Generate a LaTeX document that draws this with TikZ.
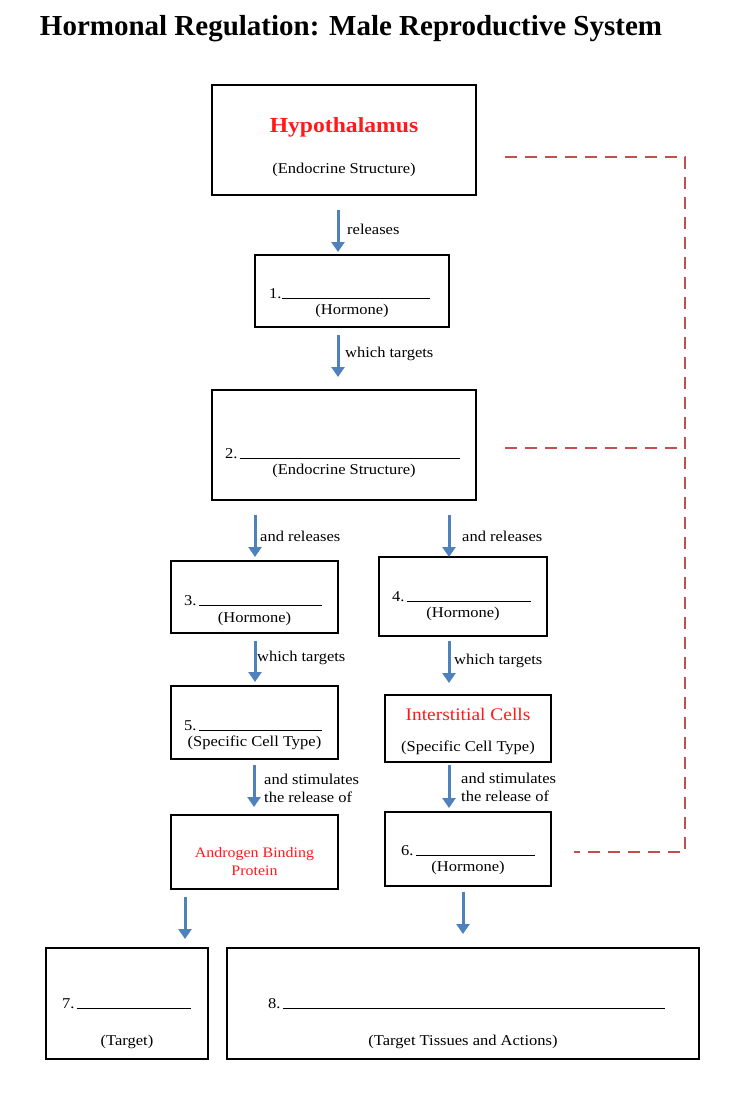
\documentclass[tikz,border=0pt]{standalone}
\usepackage{fontspec}
\setmainfont[FakeStretch=1.1]{Liberation Serif}
\newfontfamily\titlefont{Liberation Serif}
\usetikzlibrary{arrows.meta}
\definecolor{arrblue}{HTML}{4F81BD}
\definecolor{dashred}{HTML}{C0504D}
\definecolor{txtred}{HTML}{FF1A1A}
\newcommand{\blankline}[1]{\rule[-1pt]{#1}{0.6pt}}
\begin{document}
\begin{tikzpicture}[x={(1pt,0)},y={(0,-1pt)},
  box/.style={draw, line width=1.3pt, inner sep=0pt},
  flow/.style={arrblue, line width=3pt, -{Triangle[length=10pt,width=13pt]}},
  lbl/.style={anchor=west, font=\fontsize{15}{18}\selectfont, inner sep=0pt},
  body/.style={font=\fontsize{15}{17}\selectfont, inner sep=0pt},
  num/.style={anchor=base west, font=\fontsize{15}{17}\selectfont, inner sep=0pt},
  fb/.style={dashred, line width=2.8pt, dash pattern=on 12pt off 8pt}]
\useasboundingbox (0,0) rectangle (736,1094);
\node[font=\titlefont\bfseries\fontsize{29}{33}\selectfont, inner sep=0pt] (title) at (351,29) {Hormonal Regulation: Male Reproductive System};
% boxes
\node[box, minimum width=264pt, minimum height=110pt] (hyp) at (344,140) {};
\node[box, minimum width=194pt, minimum height=72pt] (b1) at (352,291) {};
\node[box, minimum width=264pt, minimum height=110pt] (b2) at (344,445) {};
\node[box, minimum width=167pt, minimum height=72pt] (b3) at (254.5,597) {};
\node[box, minimum width=168pt, minimum height=79pt] (b4) at (463,596.5) {};
\node[box, minimum width=167pt, minimum height=73pt] (b5) at (254.5,722.5) {};
\node[box, minimum width=166pt, minimum height=67pt] (ic) at (468,728.5) {};
\node[box, minimum width=167pt, minimum height=74pt] (abp) at (254.5,852) {};
\node[box, minimum width=166pt, minimum height=74pt] (b6) at (468,849) {};
\node[box, minimum width=162pt, minimum height=111pt] (b7) at (127,1003.5) {};
\node[box, minimum width=472pt, minimum height=111pt] (b8) at (463,1003.5) {};
% box texts
\node[inner sep=0pt, text=txtred, font=\bfseries\fontsize{21.5}{24}\selectfont] (t0a) at (344,127) {Hypothalamus};
\node[body] (t0b) at (344,170) {(Endocrine Structure)};
\node[num] (t1a) at (269,298) {1.\blankline{148pt}};
\node[body] (t1b) at (352,311) {(Hormone)};
\node[num] (t2a) at (225,458) {2.\,\blankline{220pt}};
\node[body] (t2b) at (344,471) {(Endocrine Structure)};
\node[num] (t3a) at (184,605) {3.\,\blankline{123pt}};
\node[body] (t3b) at (254.5,619) {(Hormone)};
\node[num] (t4a) at (392,601) {4.\,\blankline{124pt}};
\node[body] (t4b) at (463,614) {(Hormone)};
\node[num] (t5a) at (184,730) {5.\,\blankline{123pt}};
\node[body] (t5b) at (254.5,743) {(Specific Cell Type)};
\node[inner sep=0pt, text=txtred, font=\fontsize{17.7}{20}\selectfont] (tica) at (468,714) {Interstitial Cells};
\node[inner sep=0pt, font=\fontsize{15}{17}\selectfont] (ticb) at (468,748) {(Specific Cell Type)};
\node[inner sep=0pt, text=txtred, font=\fontsize{14.5}{18}\selectfont, align=center] (tabp) at (254.5,862) {Androgen Binding\\Protein};
\node[num] (t6a) at (401,855) {6.\,\blankline{119pt}};
\node[body] (t6b) at (468,868) {(Hormone)};
\node[num] (t7a) at (62,1008) {7.\,\blankline{114pt}};
\node[body] (t7b) at (127,1042) {(Target)};
\node[num] (t8a) at (268,1008) {8.\,\blankline{382pt}};
\node[body] (t8b) at (463,1042) {(Target Tissues and Actions)};
% arrow coordinates
\coordinate (a1s) at (338,210); \coordinate (a1e) at (338,252);
\coordinate (a2s) at (338,335); \coordinate (a2e) at (338,377);
\coordinate (a3s) at (255,515); \coordinate (a3e) at (255,557);
\coordinate (a4s) at (449,515); \coordinate (a4e) at (449,557);
\coordinate (a5s) at (255,641); \coordinate (a5e) at (255,682);
\coordinate (a6s) at (449,641); \coordinate (a6e) at (449,683);
\coordinate (a7s) at (254,765); \coordinate (a7e) at (254,807);
\coordinate (a8s) at (449,765); \coordinate (a8e) at (449,808);
\coordinate (a9s) at (185,897); \coordinate (a9e) at (185,939);
\coordinate (a10s) at (463,892); \coordinate (a10e) at (463,934);
\draw[flow] (a1s) -- (a1e);
\draw[flow] (a2s) -- (a2e);
\draw[flow] (a3s) -- (a3e);
\draw[flow] (a4s) -- (a4e);
\draw[flow] (a5s) -- (a5e);
\draw[flow] (a6s) -- (a6e);
\draw[flow] (a7s) -- (a7e);
\draw[flow] (a8s) -- (a8e);
\draw[flow] (a9s) -- (a9e);
\draw[flow] (a10s) -- (a10e);
% arrow labels
\node[lbl] (l1) at (347,229) {releases};
\node[lbl] (l2) at (345,354) {which targets};
\node[lbl] (l3) at (260,536) {and releases};
\node[lbl] (l4) at (462,536) {and releases};
\node[lbl] (l5) at (257,658) {which targets};
\node[lbl] (l6) at (454,661) {which targets};
\node[lbl, align=left] (l7) at (264,788) {and stimulates\\the release of};
\node[lbl, align=left] (l8) at (461,787) {and stimulates\\the release of};
% feedback dashed lines
\coordinate (fb1) at (505,157);
\coordinate (fbc1) at (685,157);
\coordinate (fb2) at (505,448);
\coordinate (fbc2) at (685,448);
\coordinate (fb3) at (574,852);
\coordinate (fbc3) at (685,852);
\draw[fb] (fb1) -- (fbc1) -- (fbc3) -- (fb3);
\draw[fb] (fb2) -- (fbc2);
\end{tikzpicture}
\end{document}
